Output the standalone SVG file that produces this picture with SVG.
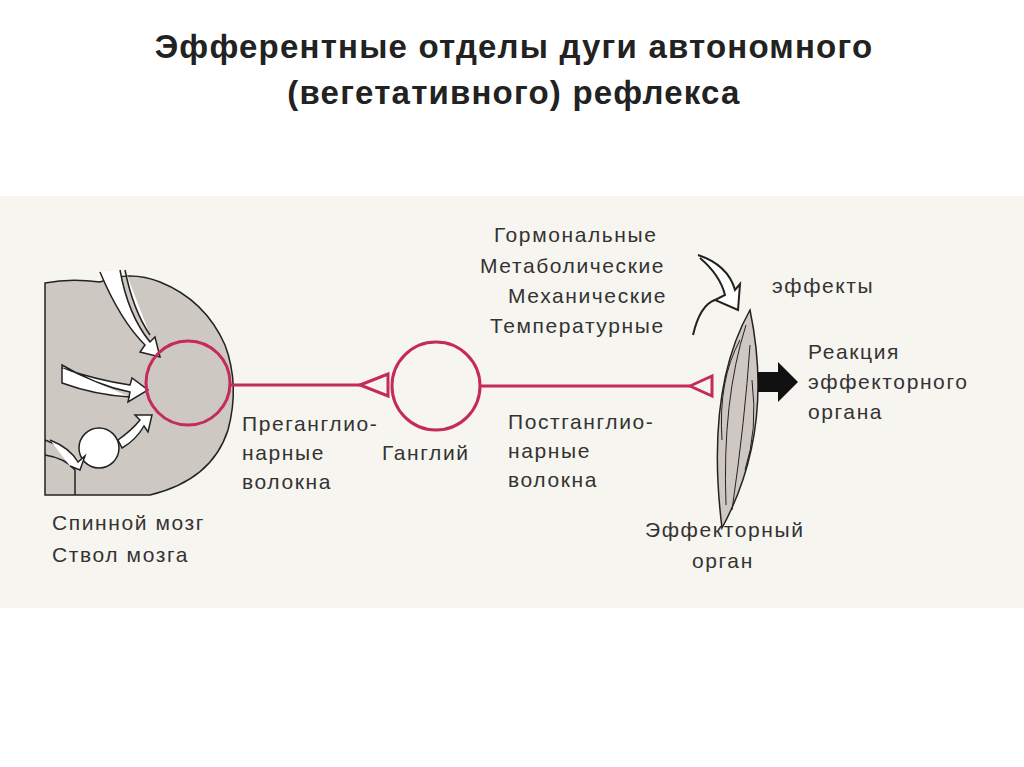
<svg xmlns="http://www.w3.org/2000/svg" width="1024" height="767" viewBox="0 0 1024 767">
<style>
.t{font-family:"Liberation Sans",Arial,sans-serif;font-size:21px;letter-spacing:1.6px;fill:#333}
.h{font-family:"Liberation Sans",Arial,sans-serif;font-size:33px;font-weight:bold;letter-spacing:1.2px;fill:#222;text-anchor:middle}
.p{fill:none;stroke:#c42a5c;stroke-width:3}
.k{fill:#fff;stroke:#222;stroke-width:1.5}
</style>
<rect width="1024" height="767" fill="#fff"/>
<rect x="0" y="196" width="1024" height="412" fill="#f7f5ef"/>
<g id="title"><text class="h" x="514" y="58">Эфферентные отделы дуги автономного</text><text class="h" x="514" y="104">(вегетативного) рефлекса</text></g>
<g id="spinal">
<path d="M45 283 Q70 278 100 282 Q130 270 160 282 Q205 300 225 345 Q240 385 228 430 Q212 480 150 495 L45 495 Z" fill="#cdc8c2" stroke="#222" stroke-width="1.5"/>
<path d="M45 455 Q65 458 75 470 L75 495 M45 440 Q60 445 75 460" fill="none" stroke="#222" stroke-width="1.5"/>
<circle cx="99" cy="448" r="20" class="k"/>
<path class="k" d="M100 272 Q120 320 145 345 L140 352 L160 357 L155 337 L150 342 Q128 315 120 270"/>
<path class="k" d="M125 270 Q133 310 150 335"/>
<path class="k" d="M62 365 Q95 385 130 392 L128 402 L148 390 L132 378 L130 385 Q96 380 62 368 Z"/>
<path class="k" d="M62 368 L62 383 Q95 395 130 397"/>
<path class="k" d="M118 440 Q132 430 140 420 L135 415 L152 415 L148 432 L144 426 Q136 440 122 448 Z"/>
<path class="k" d="M50 440 Q70 448 78 462 L85 456 L80 470 L70 466"/>
<circle cx="188" cy="383" r="42" class="p" fill="#cdc8c2"/>
</g>
<g id="ganglion"><circle cx="436" cy="386" r="44" class="p" fill="#fff"/></g>
<g id="organ">
<path d="M750 310 Q705 390 722 528 Q775 430 750 310 Z" fill="#cfc8c2" stroke="#222" stroke-width="1.5"/>
<path d="M746 325 Q722 400 726 505 M750 345 Q745 420 732 510 M740 340 Q718 380 722 440 M752 380 Q758 430 745 470" fill="none" stroke="#222" stroke-width="1"/>
</g>
<g id="connectors">
<line class="p" x1="230" y1="385" x2="360" y2="385"/>
<polygon class="p" points="360,385 388,374 388,396"/>
<line class="p" x1="480" y1="386" x2="690" y2="386"/>
<polygon class="p" points="690,386 712,376 712,396"/>
<path d="M698 255 Q728 265 735 290 L740 284 L738 310 L715 300 L725 295 Q720 275 700 258" fill="#fff" stroke="#222" stroke-width="2"/>
<path d="M715 300 Q700 305 693 335" fill="none" stroke="#222" stroke-width="2"/>
<polygon points="758,372 778,372 778,362 798,382 778,402 778,392 758,392" fill="#111"/>
</g>
<g id="labels">
<text class="t" x="494" y="242">Гормональные</text>
<text class="t" x="480" y="273">Метаболические</text>
<text class="t" x="508" y="303">Механические</text>
<text class="t" x="490" y="333">Температурные</text>
<text class="t" x="772" y="293">эффекты</text>
<text class="t" x="808" y="359">Реакция</text>
<text class="t" x="808" y="389">эффекторного</text>
<text class="t" x="808" y="419">органа</text>
<text class="t" x="242" y="431">Преганглио-</text>
<text class="t" x="242" y="460">нарные</text>
<text class="t" x="242" y="489">волокна</text>
<text class="t" x="382" y="460">Ганглий</text>
<text class="t" x="508" y="429">Постганглио-</text>
<text class="t" x="508" y="458">нарные</text>
<text class="t" x="508" y="487">волокна</text>
<text class="t" x="645" y="537">Эффекторный</text>
<text class="t" x="692" y="568">орган</text>
<text class="t" x="52" y="530">Спинной мозг</text>
<text class="t" x="52" y="562">Ствол мозга</text>
</g>
</svg>
